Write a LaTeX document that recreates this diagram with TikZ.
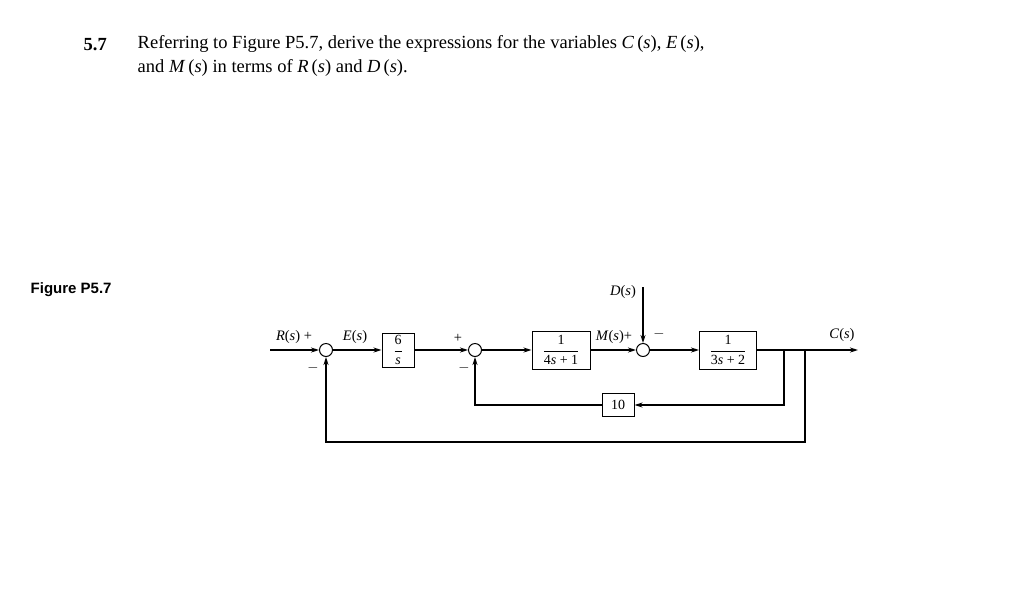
\documentclass[tikz,border=0pt]{standalone}
\usepackage{fontspec}
\setmainfont{Liberation Serif}
\newfontfamily\figfont{Liberation Sans}
\usetikzlibrary{arrows.meta}
\newcommand{\vi}[1]{\textit{#1}}
\newcommand{\fr}[2]{$\displaystyle\frac{\mbox{#1}}{\mbox{#2}}$}
\begin{document}
\begin{tikzpicture}[x=1pt,y=-1pt,line width=1.4pt,
  blk/.style={draw,fill=white,line width=1pt,inner sep=2pt,font=\fontsize{14}{15}\selectfont},
  sm/.style={draw,circle,minimum size=13pt,inner sep=0pt,line width=1pt},
  lbl/.style={font=\fontsize{14.5}{16}\selectfont,inner sep=1pt},
  arr/.style={-{Stealth[length=8pt,width=5pt]}}]
\useasboundingbox (0,0) rectangle (1016,606);
\node[font=\bfseries\fontsize{18.5}{22}\selectfont,anchor=base west,inner sep=0pt] (num) at (83,50) {5.7};
\node[font=\fontsize{18.5}{23.5}\selectfont,anchor=north west,align=left,inner sep=0pt] (txt) at (137,35)
 {Referring to Figure P5.7, derive the expressions for the variables \vi{C}\,(\vi{s}), \vi{E}\,(\vi{s}),\\ and \vi{M}\,(\vi{s}) in terms of \vi{R}\,(\vi{s}) and \vi{D}\,(\vi{s}).};
\node[font=\figfont\bfseries\fontsize{15}{17}\selectfont,anchor=base west,inner sep=0pt] (fig) at (30,293) {Figure P5.7};

\coordinate (rin) at (270,350);
\node[sm] (s1) at (326,350) {};
\node[blk,minimum width=32pt,minimum height=34pt] (g1) at (398,350) {\fr{6}{\vi{s}}};
\node[sm] (s2) at (475,350) {};
\node[blk,minimum width=58pt,minimum height=38pt,inner sep=0pt] (g2) at (561,350) {\fr{1}{4\vi{s} + 1}};
\node[sm] (s3) at (643,350) {};
\node[blk,minimum width=57pt,minimum height=38pt,inner sep=0pt] (g3) at (728,350) {\fr{1}{3\vi{s} + 2}};
\node[blk,minimum width=32pt,minimum height=23pt] (g4) at (618,405) {10};
\coordinate (b1) at (784,350);
\coordinate (b2) at (805,350);
\coordinate (out) at (858,350);
\coordinate (dtop) at (643,287);

\draw[arr] (rin) -- (s1);
\draw[arr] (s1) -- (g1);
\draw[arr] (g1) -- (s2);
\draw[arr] (s2) -- (g2);
\draw[arr] (g2) -- (s3);
\draw[arr] (s3) -- (g3);
\draw[arr] (g3) -- (out);
\draw[arr] (dtop) -- (s3);
\draw[arr] (b1) |- (g4);
\draw[arr] (g4) -| (s2);
\draw[arr] (b2) |- (326,442) -- (s1);

\node[lbl] (lr) at (294,337) {\vi{R}(\vi{s}) +};
\node[lbl] (le) at (355,337) {\vi{E}(\vi{s})};
\node[lbl] (lm) at (313,368) {$-$};
\node[lbl] (p2) at (458,338) {+};
\node[lbl] (m2) at (464,368) {$-$};
\node[lbl] (lM) at (614,337) {\vi{M}(\vi{s})+};
\node[lbl] (m3) at (659,334) {$-$};
\node[lbl] (lD) at (623,292) {\vi{D}(\vi{s})};
\node[lbl] (lC) at (842,335) {\vi{C}(\vi{s})};
\end{tikzpicture}
\end{document}
